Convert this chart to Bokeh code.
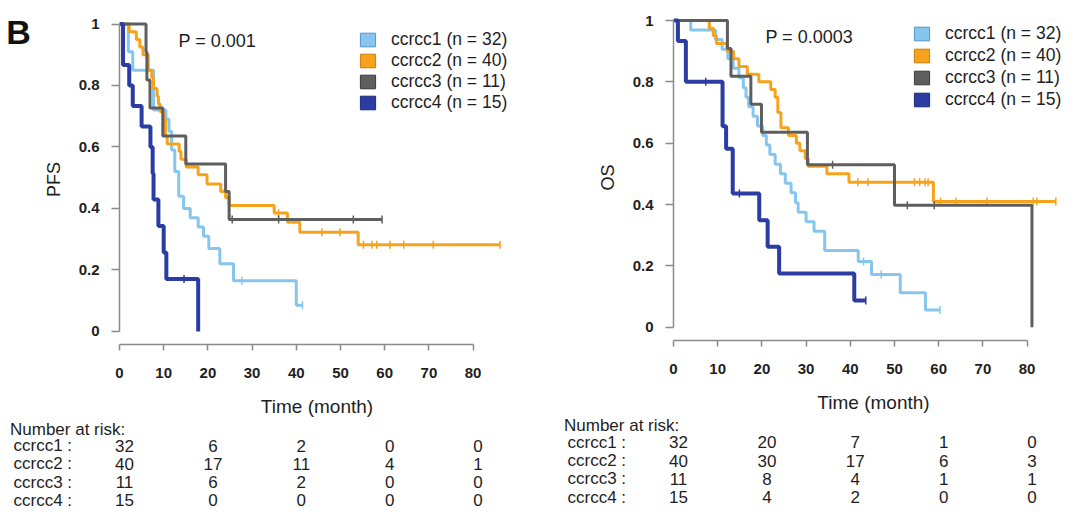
import numpy as np
from bokeh.plotting import figure
from bokeh.layouts import row, column
from bokeh.models import Range1d, FixedTicker, Legend, LegendItem, Label
from bokeh.embed import file_html
from bokeh.resources import INLINE
from bokeh.core.properties import value

FONT = "Liberation Sans"
TXT = "#1e1e1e"
AXC = "#8a8a8a"

# ---------------- data ----------------
groups = ["ccrcc1", "ccrcc2", "ccrcc3", "ccrcc4"]
group_n = [32, 40, 11, 15]
colors = ["#86C6EE", "#F6A21C", "#5E5E5E", "#2B3CA3"]
edge_colors = ["#4F95C8", "#C97C0A", "#3A3A3A", "#1C2A7A"]
line_widths = [3, 3, 3, 4]

x_ticks = [0, 10, 20, 30, 40, 50, 60, 70, 80]
y_ticks = [0, 0.2, 0.4, 0.6, 0.8, 1]
risk_times = [0, 20, 40, 60, 80]
pfs_risk = [[32, 6, 2, 0, 0], [40, 17, 11, 4, 1], [11, 6, 2, 0, 0], [15, 0, 0, 0, 0]]
os_risk = [[32, 20, 7, 1, 0], [40, 30, 17, 6, 3], [11, 8, 4, 1, 1], [15, 4, 2, 0, 0]]

# PFS (left)
pfs_c1_t = [0, 2.0, 3.0, 7.7, 10.5, 11.2, 11.8, 12.5, 13.4, 14.5, 16.0, 17.8, 19.0, 20.2, 22.7, 25.8, 40.0, 41.4]
pfs_c1_s = [1.0, 0.91, 0.85, 0.72, 0.69, 0.65, 0.59, 0.52, 0.44, 0.40, 0.37, 0.34, 0.31, 0.27, 0.22, 0.165, 0.085, 0.085]
pfs_c1_cens = [27.7, 41.4]

pfs_c2_t = [0, 2.2, 3.8, 4.6, 5.3, 6.5, 7.3, 7.7, 8.5, 8.8, 9.2, 10.0, 10.4, 10.8, 13.5, 13.9, 15.1, 17.8, 19.8,
            22.9, 24.0, 24.8, 35.0, 38.0, 40.8, 54.0, 86.1]
pfs_c2_s = [1.0, 0.975, 0.95, 0.925, 0.90, 0.85, 0.825, 0.79, 0.765, 0.74, 0.715, 0.69, 0.635, 0.61, 0.585, 0.56,
            0.535, 0.51, 0.48, 0.455, 0.435, 0.41, 0.385, 0.355, 0.323, 0.282, 0.282]
pfs_c2_cens = [36.0, 45.8, 49.9, 55.2, 57.1, 58.2, 61.2, 64.3, 71.0, 86.1]

pfs_c3_t = [0, 6.0, 6.2, 6.9, 9.8, 15.0, 24.0, 24.8, 59.4]
pfs_c3_s = [1.0, 0.909, 0.818, 0.727, 0.636, 0.545, 0.455, 0.364, 0.364]
pfs_c3_cens = [25.5, 36.0, 52.9, 59.4]

pfs_c4_t = [0, 0.8, 2.2, 3.0, 5.0, 7.0, 7.5, 7.7, 8.8, 10.0, 10.6, 17.8]
pfs_c4_s = [1.0, 0.867, 0.8, 0.733, 0.667, 0.6, 0.514, 0.429, 0.343, 0.257, 0.171, 0.0]
pfs_c4_cens = [14.6]

# OS (right)
os_c1_t = [0, 3.9, 9.5, 11.0, 12.3, 13.5, 14.8, 15.8, 16.4, 17.0, 18.0, 19.0, 20.2, 21.0, 21.8, 23.0, 24.2, 25.3,
           26.6, 27.6, 28.2, 30.0, 31.8, 34.2, 41.8, 44.8, 51.3, 57.0, 60.3]
os_c1_s = [1.0, 0.969, 0.938, 0.906, 0.875, 0.844, 0.813, 0.781, 0.75, 0.719, 0.688, 0.656, 0.625, 0.594, 0.563,
           0.531, 0.5, 0.469, 0.438, 0.406, 0.375, 0.344, 0.313, 0.25, 0.214, 0.172, 0.112, 0.056, 0.056]
os_c1_cens = [43.0, 47.0, 60.3]

os_c2_t = [0, 8.1, 9.0, 9.7, 12.1, 13.6, 14.8, 16.7, 19.3, 22.0, 23.0, 23.6, 24.3, 26.0, 27.8, 28.6, 29.8, 30.5,
           34.7, 39.7, 58.8, 86.5]
os_c2_s = [1.0, 0.975, 0.95, 0.925, 0.90, 0.875, 0.85, 0.825, 0.80, 0.775, 0.75, 0.70, 0.65, 0.625, 0.60, 0.575,
           0.55, 0.525, 0.50, 0.473, 0.41, 0.41]
os_c2_cens = [41.7, 44.0, 54.5, 55.7, 56.9, 57.6, 60.4, 63.9, 70.9, 81.4, 82.2, 86.5]

os_c3_t = [0, 12.2, 13.0, 17.5, 19.9, 30.3, 50.0, 81.1]
os_c3_s = [1.0, 0.909, 0.818, 0.727, 0.636, 0.53, 0.398, 0.0]
os_c3_cens = [36.0, 52.9, 59.0]

os_c4_t = [0, 1.0, 2.8, 11.1, 11.9, 13.4, 19.4, 21.3, 23.9, 40.9, 43.5]
os_c4_s = [1.0, 0.933, 0.8, 0.655, 0.582, 0.436, 0.349, 0.262, 0.175, 0.087, 0.087]
os_c4_cens = [7.3, 14.9, 43.5]

pfs_curves = [(pfs_c1_t, pfs_c1_s, pfs_c1_cens), (pfs_c2_t, pfs_c2_s, pfs_c2_cens),
              (pfs_c3_t, pfs_c3_s, pfs_c3_cens), (pfs_c4_t, pfs_c4_s, pfs_c4_cens)]
os_curves = [(os_c1_t, os_c1_s, os_c1_cens), (os_c2_t, os_c2_s, os_c2_cens),
             (os_c3_t, os_c3_s, os_c3_cens), (os_c4_t, os_c4_s, os_c4_cens)]

# ---------------- layout constants (pixels) ----------------
PXM = 4.42  # pixels per month

geo_left = dict(fig_w=525, frame_l=83, frame_w=395, main_h=419, top=14, frame_h=330,
                y0=-0.0423, y1=1.0309, risk_w=561, risk_frame_l=119, risk_h=104,
                hdr_y=9.5, row_y0=26.0, row_sp=18.33,
                leg_loc=(239, 231), leg_sp=0, p_xy=(13.35, 0.946))
geo_right = dict(fig_w=519, frame_l=112, frame_w=400, main_h=415, top=14, frame_h=326,
                 y0=-0.0434, y1=1.0196, risk_w=519, risk_frame_l=112, risk_h=108,
                 hdr_y=9.5, row_y0=26.7, row_sp=18.33,
                 leg_loc=(239, 230), leg_sp=1, p_xy=(20.8, 0.9456))


def surv_at(t_arr, s_arr, times):
    t_arr = np.asarray(t_arr, dtype=float)
    s_arr = np.asarray(s_arr, dtype=float)
    idx = np.searchsorted(t_arr, np.asarray(times, dtype=float), side="right") - 1
    return s_arr[idx]


def blank(fig):
    fig.outline_line_color = None
    fig.grid.visible = False
    fig.background_fill_color = "white"
    fig.border_fill_color = "white"


def build_panel(curves, risk, ylabel, ptext, g):
    fw, fl, fwid = g["fig_w"], g["frame_l"], g["frame_w"]
    p = figure(width=fw, height=g["main_h"], x_range=Range1d(0, fwid / PXM),
               y_range=Range1d(g["y0"], g["y1"]), output_backend="svg", toolbar_location=None,
               min_border_left=fl, min_border_right=fw - fl - fwid, min_border_top=g["top"],
               min_border_bottom=g["main_h"] - g["top"] - g["frame_h"], frame_align=False)
    blank(p)

    xa = p.xaxis[0]
    xa.bounds = (0, 80)
    xa.ticker = FixedTicker(ticks=x_ticks)
    xa.axis_label = "Time (month)"
    xa.major_tick_out = 6
    xa.major_label_standoff = 17
    xa.axis_label_standoff = 15
    xa.axis_label_text_font_size = "19px"

    ya = p.yaxis[0]
    ya.bounds = (0, 1)
    ya.ticker = FixedTicker(ticks=y_ticks)
    ya.major_label_overrides = {0: "0", 0.2: "0.2", 0.4: "0.4", 0.6: "0.6", 0.8: "0.8", 1: "1"}
    ya.axis_label = ylabel
    ya.major_tick_out = 8
    ya.major_label_standoff = 12
    ya.axis_label_standoff = 12
    ya.axis_label_text_font_size = "18px"

    for ax in (xa, ya):
        ax.axis_line_color = AXC
        ax.axis_line_width = 1.5
        ax.major_tick_line_color = AXC
        ax.major_tick_line_width = 1.5
        ax.major_tick_in = 0
        ax.minor_tick_line_color = None
        ax.major_label_text_font = FONT
        ax.major_label_text_font_size = "15px"
        ax.major_label_text_font_style = "bold"
        ax.major_label_text_color = TXT
        ax.axis_label_text_font = FONT
        ax.axis_label_text_font_style = "normal"
        ax.axis_label_text_color = TXT

    for i, (t, s, c) in enumerate(curves):
        p.step(x=t, y=s, mode="after", line_color=colors[i], line_width=line_widths[i])
        p.scatter(x=c, y=surv_at(t, s, c), marker="dash", angle=np.pi / 2, size=8,
                  line_color=colors[i], line_width=1.5)

    items = []
    for i, grp in enumerate(groups):
        # legend swatch only: a quad with no drawable extent
        r = p.quad(left=[np.nan], right=[np.nan], top=[np.nan], bottom=[np.nan],
                   fill_color=colors[i], line_color=edge_colors[i], line_width=1)
        items.append(LegendItem(label=f"{grp} (n = {group_n[i]})", renderers=[r]))
    leg = Legend(items=items, location=g["leg_loc"], glyph_width=19, glyph_height=17,
                 label_height=21, spacing=g["leg_sp"], padding=0, margin=0, label_standoff=14,
                 border_line_color=None, background_fill_alpha=0, label_text_font=FONT,
                 label_text_font_size="17.5px", label_text_color=TXT)
    p.add_layout(leg)

    p.add_layout(Label(x=g["p_xy"][0], y=g["p_xy"][1], text=ptext, text_baseline="middle",
                       text_font=FONT, text_font_size="18px", text_color=TXT))

    # risk table (y in pixels from the top of this strip)
    H = g["risk_h"]
    rw, rfl = g["risk_w"], g["risk_frame_l"]
    rf = figure(width=rw, height=H, x_range=Range1d(-rfl / PXM, (rw - rfl) / PXM),
                y_range=Range1d(H, 0), output_backend="svg", toolbar_location=None,
                min_border=0, x_axis_location=None, y_axis_location=None, frame_align=False)
    blank(rf)

    tkw = dict(text_font=value(FONT), text_font_size="17px", text_color=TXT, text_baseline="middle")
    rf.text(x=[-109.5 / PXM], y=[g["hdr_y"]], text=["Number at risk:"], text_align="left", **tkw)
    row_y = [g["row_y0"] + g["row_sp"] * i for i in range(len(groups))]
    rf.text(x=[-106 / PXM] * len(groups), y=row_y,
            text=[f"{grp} :" for grp in groups], text_align="left", **tkw)
    xs, ys, txt = [], [], []
    for i, counts in enumerate(risk):
        for tt, n in zip(risk_times, counts):
            xs.append(tt + 5 / PXM)
            ys.append(row_y[i])
            txt.append(str(n))
    rf.text(x=xs, y=ys, text=txt, text_align="center", **tkw)
    return p, rf


# panel letter strip
bfig = figure(width=36, height=geo_left["main_h"], x_range=Range1d(0, 36),
              y_range=Range1d(geo_left["main_h"], 0), output_backend="svg", toolbar_location=None,
              min_border=0, x_axis_location=None, y_axis_location=None, frame_align=False)
blank(bfig)
bfig.text(x=[5.8], y=[31.0], text=["B"], text_baseline="middle", text_align="left",
          text_font=value(FONT), text_font_size="34px", text_font_style="bold", text_color="#111111")

lp, lr = build_panel(pfs_curves, pfs_risk, "PFS", "P = 0.001", geo_left)
rp, rr = build_panel(os_curves, os_risk, "OS", "P = 0.0003", geo_right)

layout = row(column(row(bfig, lp), lr), column(rp, rr))

open("out.html", "w").write(file_html(layout, INLINE))
